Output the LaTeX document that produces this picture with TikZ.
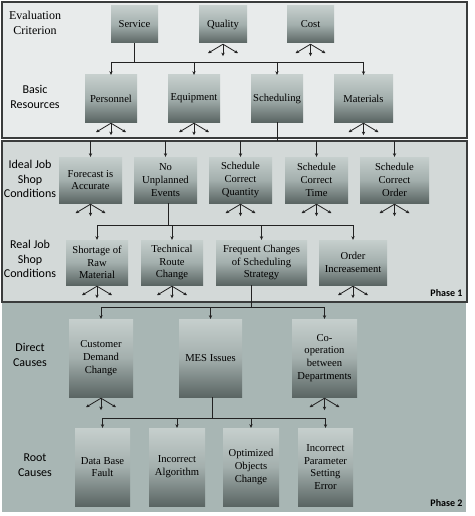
\documentclass[tikz,border=0pt]{standalone}
\usepackage{fontspec}
\setmainfont{Liberation Serif}
\newfontfamily\labfont{Carlito}
\usetikzlibrary{arrows.meta}
\definecolor{panA}{HTML}{E8EBEB}
\definecolor{panB}{HTML}{D3D9D8}
\definecolor{panC}{HTML}{A8B6B4}
\definecolor{frameC}{HTML}{3A3C3C}
\definecolor{boxTop}{HTML}{C6CFCD}
\definecolor{boxMid}{HTML}{A3AFAD}
\definecolor{boxBot}{HTML}{5A6563}
\definecolor{lineC}{HTML}{222222}
\tikzset{
  box/.style={rectangle, inner sep=0pt, align=center, top color=boxTop, bottom color=boxBot, middle color=boxMid,
     font=\fontsize{10.6}{12.8}\selectfont, text=black},
  lab/.style={align=center, font=\labfont\fontsize{12}{14.5}\selectfont},
  labserif/.style={align=center, font=\fontsize{12}{14.3}\selectfont},
  phase/.style={anchor=east, font=\labfont\bfseries\fontsize{10}{12}\selectfont},
  conn/.style={draw=lineC, line width=0.8pt},
  arr/.style={conn, -{Stealth[length=3.6pt,width=3.4pt]}},
  panel/.style={draw=frameC, line width=1.3pt}
}
\newcommand{\fan}[1]{%
  \draw[arr] ([yshift=-1pt]#1.south) -- ++(-15,9);
  \draw[arr] ([yshift=-1pt]#1.south) -- ++(0,12);
  \draw[arr] ([yshift=-1pt]#1.south) -- ++(15,9);}
\begin{document}
\begin{tikzpicture}[x=1pt,y=-1pt]
\useasboundingbox[fill=white] (0,0) rectangle (474,516);
% panels
\fill[panC] (2,303) rectangle (466,512);
\draw[panel, fill=panB] (2,141) rectangle (467,302);
\draw[panel, fill=panA] (2,2) rectangle (467,138);
% labels
\node[labserif] (lEval) at (35,23) {Evaluation\\Criterion};
\node[lab] (lBasic) at (35,97) {Basic\\Resources};
\node[lab] (lIdeal) at (30,179) {Ideal Job\\Shop\\Conditions};
\node[lab] (lReal) at (30,259) {Real Job\\Shop\\Conditions};
\node[lab] (lDirect) at (30,355) {Direct\\Causes};
\node[lab] (lRoot) at (35,465) {Root\\Causes};
\node[phase] (ph1) at (466,293) {Phase 1};
\node[phase] (ph2) at (466,503) {Phase 2};
% row 1
\node[box, minimum width=47pt, minimum height=37pt] (serv) at (134.5,24.5) {Service};
\node[box, minimum width=48pt, minimum height=37pt] (qual) at (223,24.5) {Quality};
\node[box, minimum width=47pt, minimum height=37pt] (cost) at (310.5,24.5) {Cost};
% row 2
\node[box, minimum width=52pt, minimum height=47pt] (pers) at (111,98.5) {Personnel};
\node[box, minimum width=52pt, minimum height=47pt] (equip) at (194,98.5) {Equipment};
\node[box, minimum width=52pt, minimum height=47pt] (sched) at (277,98.5) {Scheduling};
\node[box, minimum width=59pt, minimum height=47pt] (mat) at (363.5,98.5) {Materials};
% row 3
\node[box, minimum width=63pt, minimum height=46pt] (fore) at (90.5,180) {Forecast is\\Accurate};
\node[box, minimum width=63pt, minimum height=46pt] (nounp) at (165.5,180) {No\\Unplanned\\Events};
\node[box, minimum width=63pt, minimum height=46pt] (scq) at (240.5,180) {Schedule\\Correct\\Quantity};
\node[box, minimum width=63pt, minimum height=46pt] (sct) at (316.5,180) {Schedule\\Correct\\Time};
\node[box, minimum width=69pt, minimum height=46pt] (sco) at (394.5,180) {Schedule\\Correct\\Order};
% row 4
\node[box, minimum width=62pt, minimum height=45pt] (short) at (97,262.5) {Shortage of\\Raw\\Material};
\node[box, minimum width=62pt, minimum height=45pt] (tech) at (172,262.5) {Technical\\Route\\Change};
\node[box, minimum width=91pt, minimum height=45pt] (freq) at (261.5,262.5) {Frequent Changes\\of Scheduling\\Strategy};
\node[box, minimum width=68pt, minimum height=45pt] (order) at (353,262.5) {Order\\Increasement};
% row 5
\node[box, minimum width=64pt, minimum height=78pt] (cust) at (101,358) {Customer\\Demand\\Change};
\node[box, minimum width=63pt, minimum height=78pt] (mes) at (210.5,358) {MES Issues};
\node[box, minimum width=65pt, minimum height=78pt] (coop) at (324.5,358) {Co-\\operation\\between\\Departments};
% row 6
\node[box, minimum width=55pt, minimum height=78pt] (dbf) at (102.5,467) {Data Base\\Fault};
\node[box, minimum width=56pt, minimum height=78pt] (incalg) at (177,467) {Incorrect\\Algorithm};
\node[box, minimum width=56pt, minimum height=78pt] (optobj) at (251,467) {Optimized\\Objects\\Change};
\node[box, minimum width=55pt, minimum height=78pt] (incpar) at (325.5,467) {Incorrect\\Parameter\\Setting\\Error};
% bus 1
\coordinate (b1) at (0,62);
\draw[conn] (serv.south) -- (serv.south |- b1);
\draw[conn] (pers.north |- b1) -- (mat.north |- b1);
\foreach \n in {pers,equip,sched,mat} \draw[arr] (\n.north |- b1) -- (\n.north);
% bus 2 (panel top)
\coordinate (b2) at (0,141);
\draw[conn] (sched.south) -- (sched.south |- b2);
\foreach \n in {fore,nounp,scq,sct,sco} \draw[arr] (\n.north |- b2) -- (\n.north);
% bus 3
\coordinate (b3) at (0,225);
\coordinate (n3) at ([xshift=3pt]nounp.south);
\draw[conn] (n3) -- (n3 |- b3);
\draw[conn] (short.north |- b3) -- (order.north |- b3);
\foreach \n in {short,tech,freq,order} \draw[arr] (\n.north |- b3) -- (\n.north);
% bus 4
\coordinate (b4) at (0,307);
\coordinate (n4) at ([xshift=-10pt]freq.south);
\draw[conn] (n4) -- (n4 |- b4);
\draw[conn] (cust.north |- b4) -- (coop.north |- b4);
\foreach \n in {cust,mes,coop} \draw[arr] (\n.north |- b4) -- (\n.north);
% bus 5
\coordinate (b5) at (0,418);
\coordinate (n5) at ([xshift=1.5pt]mes.south);
\draw[conn] (n5) -- (n5 |- b5);
\draw[conn] (dbf.north |- b5) -- (incpar.north |- b5);
\foreach \n in {dbf,incalg,optobj,incpar} \draw[arr] (\n.north |- b5) -- (\n.north);
% fans
\foreach \n in {qual,cost,pers,equip,mat,fore,scq,sct,sco,short,tech,order,cust,coop} {\fan{\n}}
\end{tikzpicture}
\end{document}
